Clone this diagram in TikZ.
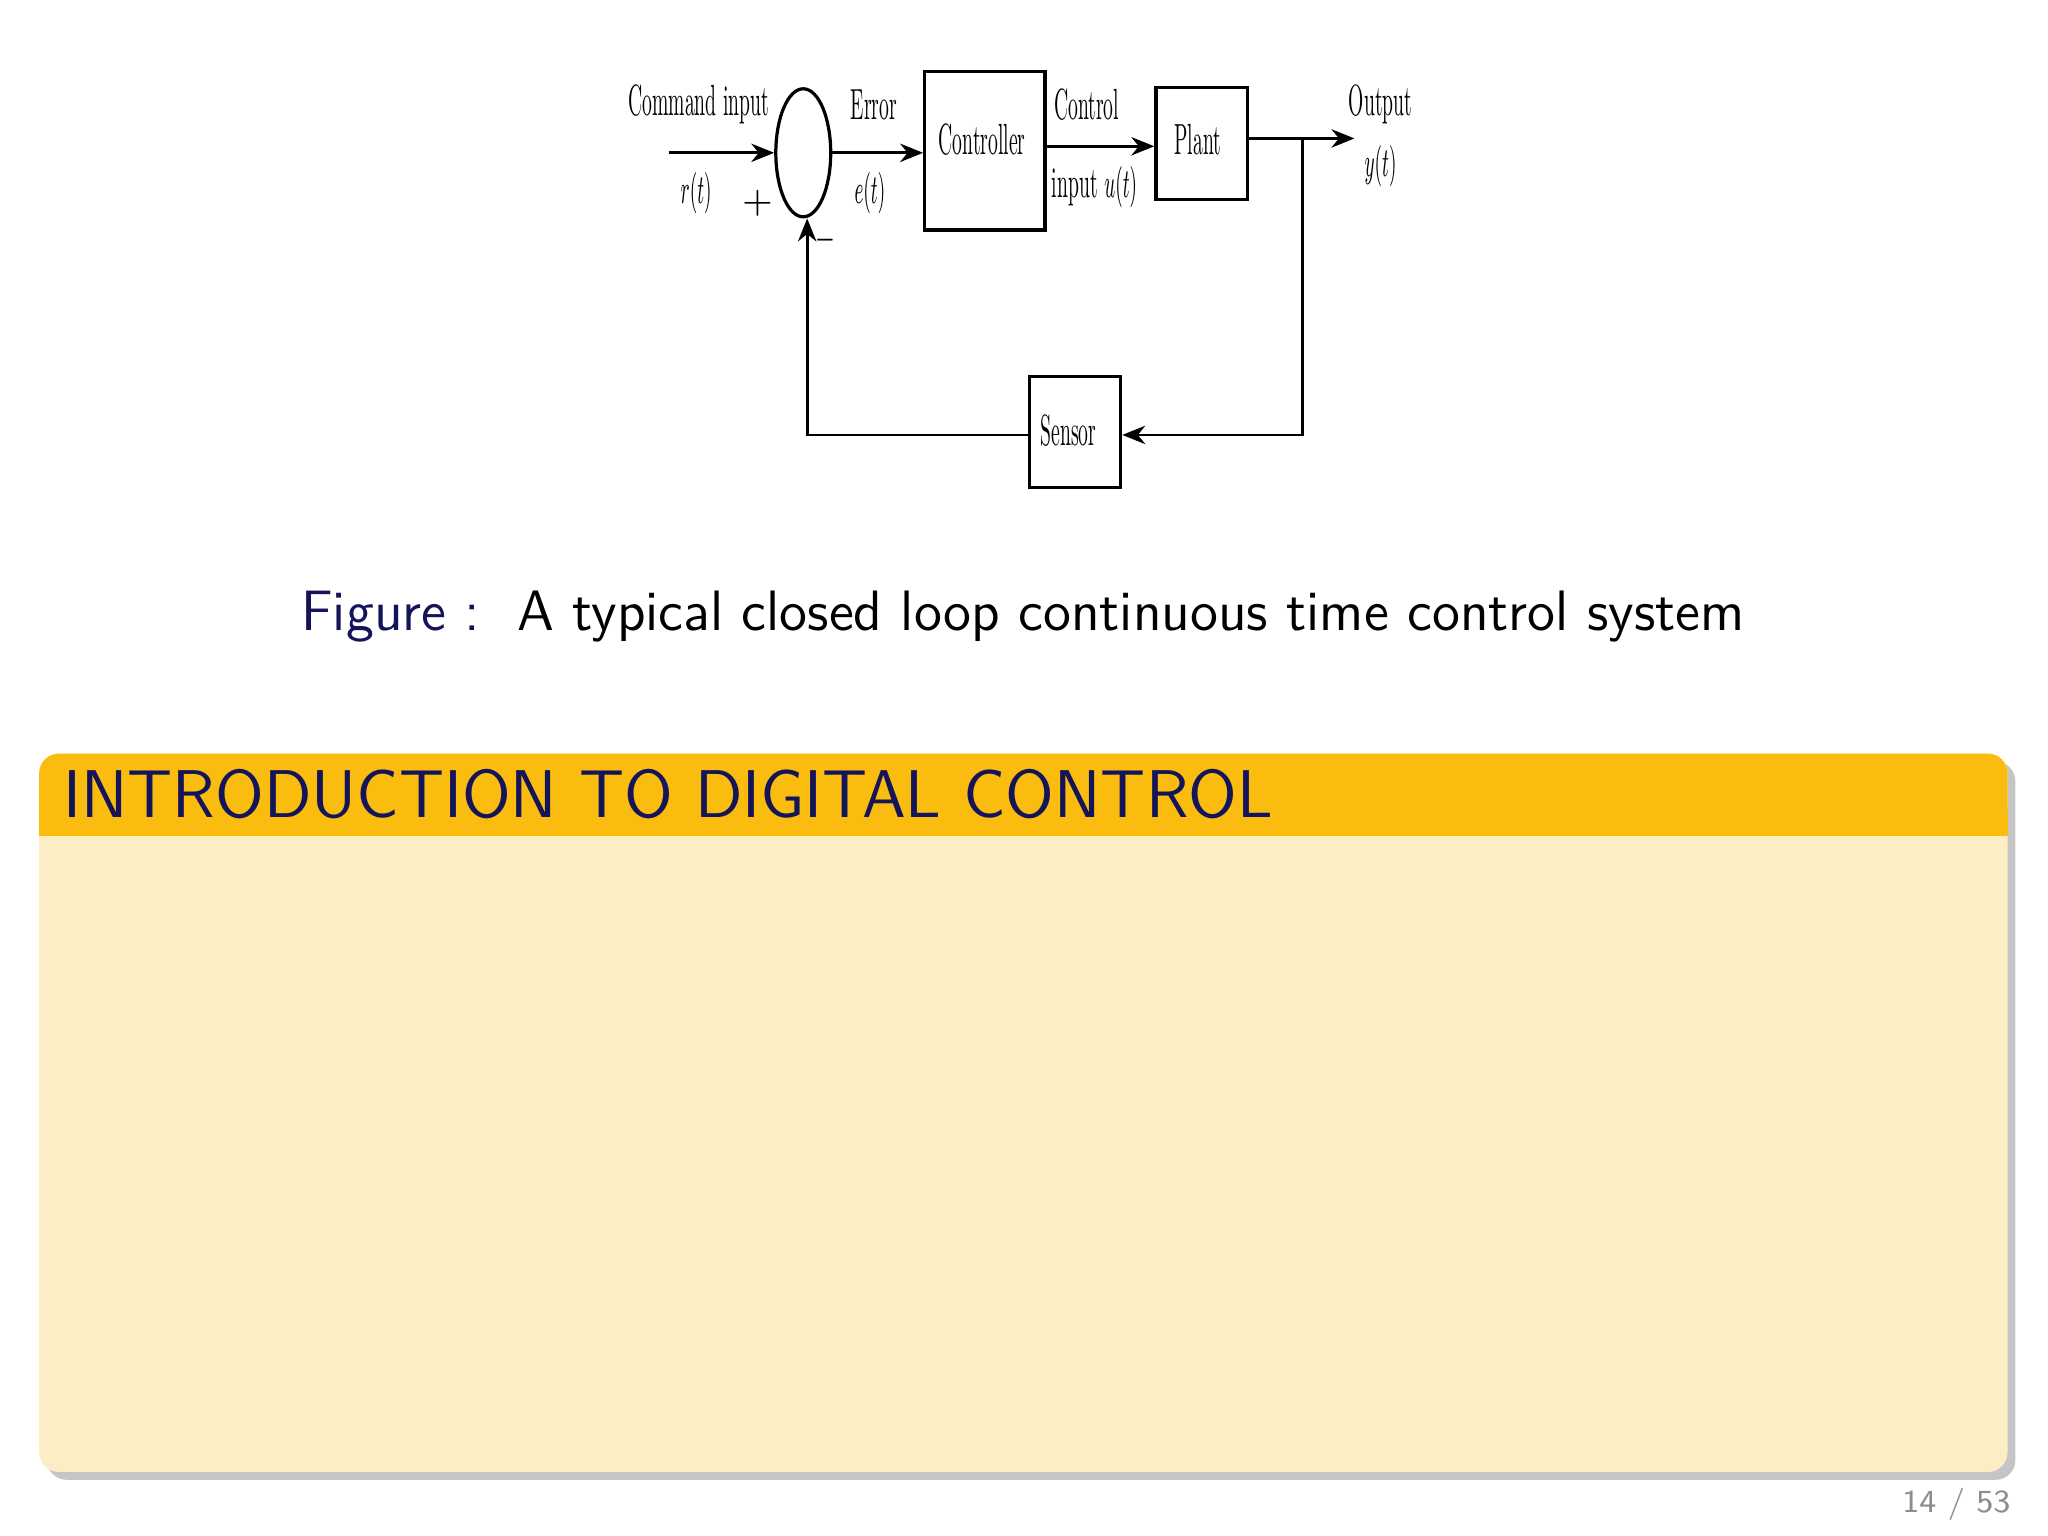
\documentclass[tikz,border=0pt]{standalone}
\usetikzlibrary{arrows.meta,shapes.geometric,shadows}
\definecolor{navy}{RGB}{20,20,90}
\definecolor{hdr}{RGB}{250,188,14}
\definecolor{bdy}{RGB}{253,237,196}
\newcommand{\sq}[1]{\scalebox{0.45}[1]{#1}}
\begin{document}
\begin{tikzpicture}[x=0.01cm,y=-0.01cm,
  lbl/.style={font=\fontsize{9.5}{11}\selectfont, inner sep=0pt},
  blk/.style={draw, line width=0.7pt, inner sep=0pt},
  arr/.style={-{Stealth[length=5pt,width=4pt]}, line width=0.6pt},
  ln/.style={line width=0.6pt}]
\useasboundingbox (0,0) rectangle (1568,1176);
% diagram
\node[ellipse, draw, line width=0.7pt, minimum width=0.42cm, minimum height=0.98cm, inner sep=0pt] (sum) at (615,117) {};
\node[blk, minimum width=0.92cm, minimum height=1.21cm] (ctrl) at (754,115.5) {};
\node[lbl] at (752,107) {\sq{Controller}};
\node[blk, minimum width=0.7cm, minimum height=0.86cm] (plant) at (920,110) {};
\node[lbl] at (917,107) {\sq{Plant}};
\node[blk, minimum width=0.7cm, minimum height=0.85cm] (sens) at (823,330.5) {};
\node[lbl] at (818,330) {\sq{Sensor}};
\coordinate (in) at (512,117);
\coordinate (out) at (1037,106);
\coordinate (br) at (997,106);
\coordinate (fb) at (618,333);
\draw[arr] (in) -- (sum.west);
\draw[arr] (sum.east) -- (ctrl.west |- sum.east);
\draw[arr] (ctrl.east |- 0,112) -- (plant.west |- 0,112);
\draw[arr] (plant.east |- out) -- (out);
\draw[arr] (br) -- (997,333) -- (sens.east |- 0,333);
\draw[arr] (sens.west |- fb) -- (fb) -- (fb |- sum.south);
\node[lbl] at (535,80) {\sq{Command input}};
\node[lbl] at (533,148) {\sq{$r(t)$}};
\node[lbl, font=\fontsize{8}{9}\selectfont] at (580,156) {$+$};
\node[lbl, font=\bfseries\fontsize{9}{9}\selectfont] at (632,184) {\scalebox{0.6}[1]{$-$}};
\node[lbl] at (669,80) {\sq{Error}};
\node[lbl] at (666,148) {\sq{$e(t)$}};
\node[lbl] at (832,80) {\sq{Control}};
\node[lbl] at (838,143) {\sq{input $u(t)$}};
\node[lbl] at (1057,80) {\sq{Output}};
\node[lbl] at (1057,127) {\sq{$y(t)$}};
% caption
\node[anchor=west, inner sep=0pt, font=\sffamily\fontsize{12.4}{14}\selectfont] (cap) at (230,472) {\textcolor{navy}{Figure :}\ \ A typical closed loop continuous time control system};
% block
\fill[black!45, rounded corners=0.15cm, opacity=0.5] (36,583) rectangle (1543,1133);
\fill[bdy, rounded corners=0.15cm] (30,577) rectangle (1537,1127);
\fill[hdr, rounded corners=0.15cm] (30,577) rectangle (1537,640);
\fill[hdr] (30,620) rectangle (1537,640);
\node[anchor=west, inner sep=0pt, text=navy, font=\sffamily\fontsize{14.7}{17}\selectfont] (title) at (48,608) {INTRODUCTION TO DIGITAL CONTROL};
\node[anchor=east, inner sep=0pt, text=black!45, font=\sffamily\fontsize{7}{8}\selectfont] (pg) at (1540,1152) {14 / 53};
\end{tikzpicture}
\end{document}
